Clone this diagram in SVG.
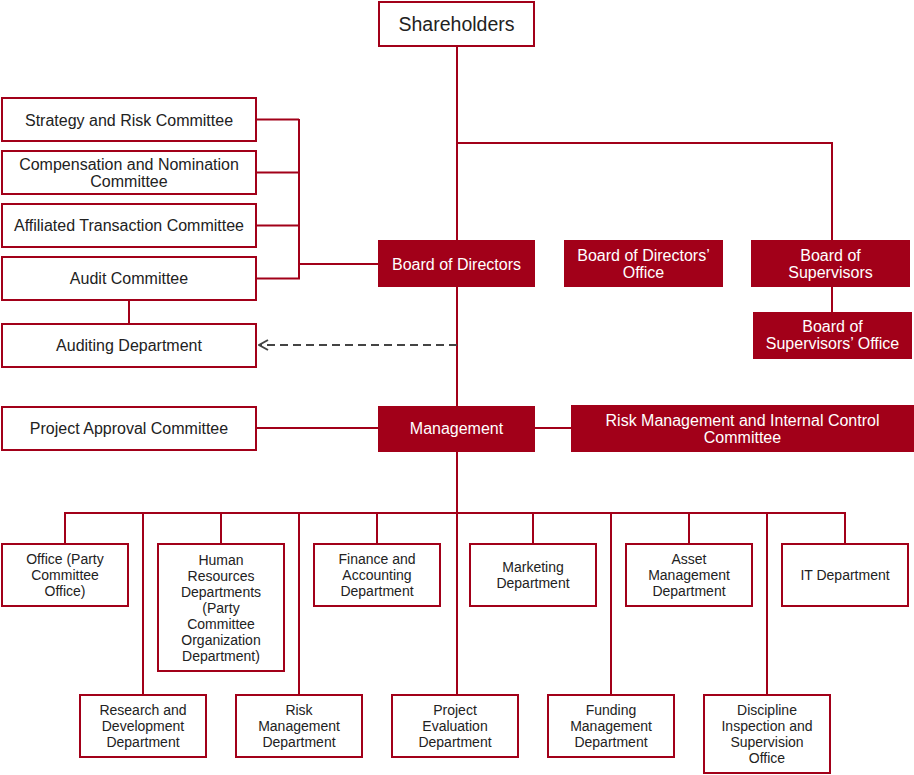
<svg xmlns="http://www.w3.org/2000/svg" width="914" height="775" viewBox="0 0 914 775">
<defs>
<style>
.ob{fill:#fff;stroke:#a20019;stroke-width:2}
.fb{fill:#a20019}
.ln{fill:none;stroke:#a20019;stroke-width:2}
.dl{fill:none;stroke:#444;stroke-width:2;stroke-dasharray:8 5}
text{font-family:"Liberation Sans",Arial,sans-serif;text-anchor:middle;dominant-baseline:central}
.t16{font-size:16px;fill:#222}
.w16{font-size:16px;fill:#fff}
.t14{font-size:14px;fill:#222}
</style>
<marker id="arr" viewBox="0 0 12 12" refX="11" refY="6" markerWidth="12" markerHeight="12" markerUnits="userSpaceOnUse" orient="auto">
<path d="M2,1 L11,6 L2,11" fill="none" stroke="#444" stroke-width="2"/>
</marker>
</defs>
<rect width="914" height="775" fill="#fff"/>
<g id="connectors">
<path class="ln" d="M457,47 V695"/>
<path class="ln" d="M457,143 H832 V240"/>
<path class="ln" d="M832,287 V312"/>
<path class="ln" d="M257,119.5 H299 M257,172.5 H299 M257,225.5 H299 M257,278.5 H299 M299,119 V279.5 M299,264 H378"/>
<path class="ln" d="M129,301 V323"/>
<path class="ln" d="M257,428 H378 M535,428 H571"/>
<path class="ln" d="M65,543 V513 H845 V543 M221,513 V543 M377,513 V543 M533,513 V543 M689,513 V543"/>
<path class="ln" d="M143,513 V694 M299,513 V694 M611,513 V694 M767,513 V694"/>
<path class="dl" d="M457,345 H259" marker-end="url(#arr)"/>
</g>
<g id="shareholders"><rect class="ob" x="379" y="2" width="155" height="44"/><text class="t16" x="456.5" y="24" style="font-size:19.5px">Shareholders</text></g>
<g id="strategy"><rect class="ob" x="2" y="98" width="254" height="43"/><text class="t16" x="129" y="120">Strategy and Risk Committee</text></g>
<g id="compensation"><rect class="ob" x="2" y="151" width="254" height="43"/><text class="t16" x="129" y="164.5">Compensation and Nomination</text><text class="t16" x="129" y="181.5">Committee</text></g>
<g id="affiliated"><rect class="ob" x="2" y="204" width="254" height="43"/><text class="t16" x="129" y="225.5">Affiliated Transaction Committee</text></g>
<g id="audit"><rect class="ob" x="2" y="257" width="254" height="43"/><text class="t16" x="129" y="278">Audit Committee</text></g>
<g id="auditing"><rect class="ob" x="2" y="324" width="254" height="43"/><text class="t16" x="129" y="345.5">Auditing Department</text></g>
<g id="project-approval"><rect class="ob" x="2" y="407" width="254" height="43"/><text class="t16" x="129" y="428">Project Approval Committee</text></g>
<g id="board"><rect class="fb" x="378" y="240" width="157" height="47"/><text class="w16" x="456.5" y="264">Board of Directors</text></g>
<g id="board-office"><rect class="fb" x="564" y="240" width="159" height="47"/><text class="w16" x="643.5" y="255.5">Board of Directors’</text><text class="w16" x="643.5" y="272.5">Office</text></g>
<g id="supervisors"><rect class="fb" x="751" y="240" width="159" height="47"/><text class="w16" x="830.5" y="255.5">Board of</text><text class="w16" x="830.5" y="272.5">Supervisors</text></g>
<g id="supervisors-office"><rect class="fb" x="753" y="312" width="159" height="47"/><text class="w16" x="832.5" y="326.5">Board of</text><text class="w16" x="832.5" y="343.5">Supervisors’ Office</text></g>
<g id="management"><rect class="fb" x="378" y="406" width="157" height="46"/><text class="w16" x="456.5" y="428">Management</text></g>
<g id="risk-ic"><rect class="fb" x="571" y="405" width="343" height="47"/><text class="w16" x="742.5" y="420.5">Risk Management and Internal Control</text><text class="w16" x="742.5" y="437.5">Committee</text></g>
<g id="office"><rect class="ob" x="2" y="544" width="126" height="62"/><text class="t14" x="65" y="558.5">Office (Party</text><text class="t14" x="65" y="574.5">Committee</text><text class="t14" x="65" y="590.5">Office)</text></g>
<g id="hr"><rect class="ob" x="158" y="544" width="126" height="127"/><text class="t14" x="221" y="559.5">Human</text><text class="t14" x="221" y="575.5">Resources</text><text class="t14" x="221" y="591.5">Departments</text><text class="t14" x="221" y="607.5">(Party</text><text class="t14" x="221" y="623.5">Committee</text><text class="t14" x="221" y="639.5">Organization</text><text class="t14" x="221" y="655.5">Department)</text></g>
<g id="finance"><rect class="ob" x="314" y="544" width="126" height="62"/><text class="t14" x="377" y="558.5">Finance and</text><text class="t14" x="377" y="574.5">Accounting</text><text class="t14" x="377" y="590.5">Department</text></g>
<g id="marketing"><rect class="ob" x="470" y="544" width="126" height="62"/><text class="t14" x="533" y="567">Marketing</text><text class="t14" x="533" y="583">Department</text></g>
<g id="asset"><rect class="ob" x="626" y="544" width="126" height="62"/><text class="t14" x="689" y="558.5">Asset</text><text class="t14" x="689" y="574.5">Management</text><text class="t14" x="689" y="590.5">Department</text></g>
<g id="it"><rect class="ob" x="782" y="544" width="126" height="62"/><text class="t14" x="845" y="574.5">IT Department</text></g>
<g id="rd"><rect class="ob" x="80" y="695" width="126" height="62"/><text class="t14" x="143" y="709.5">Research and</text><text class="t14" x="143" y="725.5">Development</text><text class="t14" x="143" y="741.5">Department</text></g>
<g id="risk"><rect class="ob" x="236" y="695" width="126" height="62"/><text class="t14" x="299" y="709.5">Risk</text><text class="t14" x="299" y="725.5">Management</text><text class="t14" x="299" y="741.5">Department</text></g>
<g id="project-eval"><rect class="ob" x="392" y="695" width="126" height="62"/><text class="t14" x="455" y="709.5">Project</text><text class="t14" x="455" y="725.5">Evaluation</text><text class="t14" x="455" y="741.5">Department</text></g>
<g id="funding"><rect class="ob" x="548" y="695" width="126" height="62"/><text class="t14" x="611" y="709.5">Funding</text><text class="t14" x="611" y="725.5">Management</text><text class="t14" x="611" y="741.5">Department</text></g>
<g id="discipline"><rect class="ob" x="704" y="695" width="126" height="78"/><text class="t14" x="767" y="709.5">Discipline</text><text class="t14" x="767" y="725.5">Inspection and</text><text class="t14" x="767" y="741.5">Supervision</text><text class="t14" x="767" y="757.5">Office</text></g>
</svg>
